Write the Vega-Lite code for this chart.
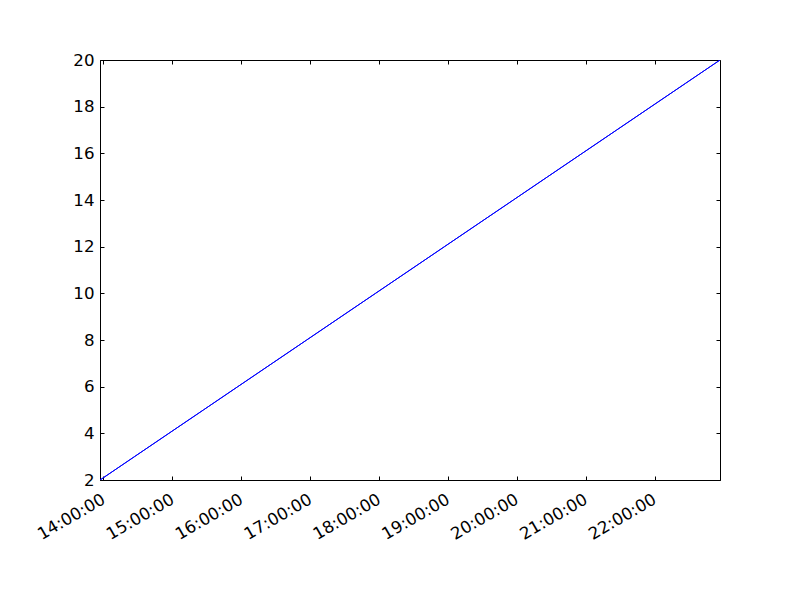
{
  "$schema": "https://vega.github.io/schema/vega-lite/v6.json",
  "width": 620,
  "height": 420,
  "autosize": {"type": "none"},
  "padding": {"left": 100, "top": 60, "right": 80, "bottom": 120},
  "background": "white",
  "data": {
    "values": [
      {"time": "2024-01-01T13:57:00", "value": 2},
      {"time": "2024-01-01T14:27:00", "value": 3},
      {"time": "2024-01-01T14:57:00", "value": 4},
      {"time": "2024-01-01T15:27:00", "value": 5},
      {"time": "2024-01-01T15:57:00", "value": 6},
      {"time": "2024-01-01T16:27:00", "value": 7},
      {"time": "2024-01-01T16:57:00", "value": 8},
      {"time": "2024-01-01T17:27:00", "value": 9},
      {"time": "2024-01-01T17:57:00", "value": 10},
      {"time": "2024-01-01T18:27:00", "value": 11},
      {"time": "2024-01-01T18:57:00", "value": 12},
      {"time": "2024-01-01T19:27:00", "value": 13},
      {"time": "2024-01-01T19:57:00", "value": 14},
      {"time": "2024-01-01T20:27:00", "value": 15},
      {"time": "2024-01-01T20:57:00", "value": 16},
      {"time": "2024-01-01T21:27:00", "value": 17},
      {"time": "2024-01-01T21:57:00", "value": 18},
      {"time": "2024-01-01T22:27:00", "value": 19},
      {"time": "2024-01-01T22:57:00", "value": 20}
    ]
  },
  "layer": [
    {
      "mark": {"type": "line", "color": "#0000ff", "strokeWidth": 1, "clip": true},
      "encoding": {
        "x": {
          "field": "time",
          "type": "temporal",
          "scale": {"nice": false},
          "axis": {
            "orient": "bottom",
            "format": "%H:%M:%S",
            "values": [
              {"year": 2024, "month": 1, "date": 1, "hours": 14},
              {"year": 2024, "month": 1, "date": 1, "hours": 15},
              {"year": 2024, "month": 1, "date": 1, "hours": 16},
              {"year": 2024, "month": 1, "date": 1, "hours": 17},
              {"year": 2024, "month": 1, "date": 1, "hours": 18},
              {"year": 2024, "month": 1, "date": 1, "hours": 19},
              {"year": 2024, "month": 1, "date": 1, "hours": 20},
              {"year": 2024, "month": 1, "date": 1, "hours": 21},
              {"year": 2024, "month": 1, "date": 1, "hours": 22}
            ],
            "labelAngle": -30,
            "labelAlign": "right",
            "labelBaseline": "top",
            "labelPadding": 15,
            "labelOffset": -4,
            "labelFlush": false,
            "labelOverlap": false
          },
          "title": null
        },
        "y": {
          "field": "value",
          "type": "quantitative",
          "scale": {"domain": [2, 20], "nice": false, "zero": false},
          "axis": {
            "orient": "left",
            "values": [2, 4, 6, 8, 10, 12, 14, 16, 18, 20],
            "labelPadding": 10,
            "labelFlush": false
          },
          "title": null
        }
      }
    },
    {
      "mark": {"type": "line", "color": "#0000ff", "strokeWidth": 1, "clip": true},
      "encoding": {
        "x": {
          "field": "time",
          "type": "temporal",
          "axis": {
            "orient": "top",
            "labels": false,
            "domain": false,
            "values": [
              {"year": 2024, "month": 1, "date": 1, "hours": 14},
              {"year": 2024, "month": 1, "date": 1, "hours": 15},
              {"year": 2024, "month": 1, "date": 1, "hours": 16},
              {"year": 2024, "month": 1, "date": 1, "hours": 17},
              {"year": 2024, "month": 1, "date": 1, "hours": 18},
              {"year": 2024, "month": 1, "date": 1, "hours": 19},
              {"year": 2024, "month": 1, "date": 1, "hours": 20},
              {"year": 2024, "month": 1, "date": 1, "hours": 21},
              {"year": 2024, "month": 1, "date": 1, "hours": 22}
            ]
          },
          "title": null
        },
        "y": {
          "field": "value",
          "type": "quantitative",
          "axis": {
            "orient": "right",
            "labels": false,
            "domain": false,
            "values": [2, 4, 6, 8, 10, 12, 14, 16, 18, 20]
          },
          "title": null
        }
      }
    }
  ],
  "resolve": {"axis": {"x": "independent", "y": "independent"}},
  "config": {
    "view": {"stroke": "black", "strokeWidth": 1},
    "axis": {
      "grid": false,
      "domainColor": "black",
      "domainWidth": 1,
      "tickColor": "black",
      "tickSize": -4,
      "tickWidth": 1,
      "labelColor": "black",
      "labelFont": "DejaVu Sans",
      "labelFontSize": 16.67
    }
  }
}
